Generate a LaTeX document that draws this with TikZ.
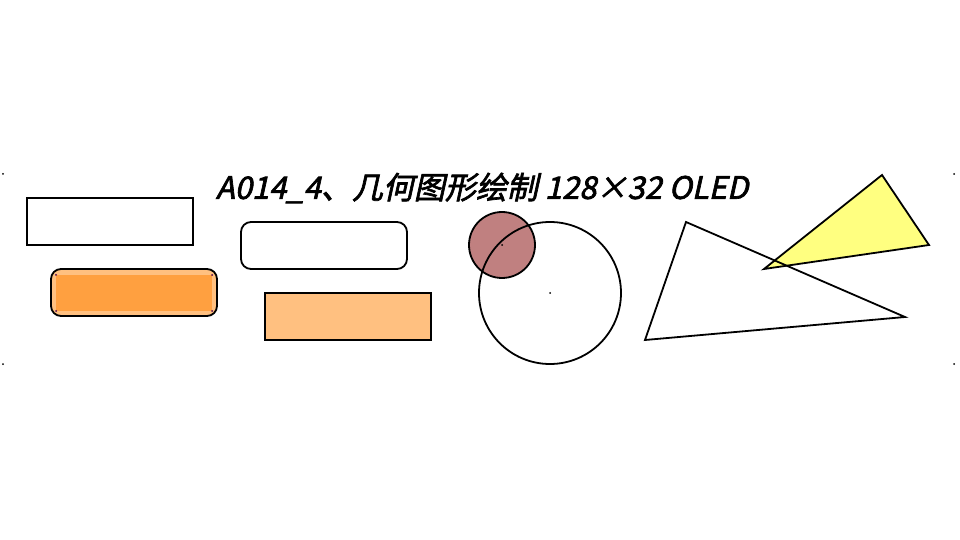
\documentclass[tikz,border=0pt]{standalone}
\usepackage{fontspec}
\newfontfamily\cjk[FakeSlant=0.22,FakeBold=2.2]{Noto Sans CJK SC}
\definecolor{orangefill}{HTML}{FFA040}
\definecolor{orangelite}{HTML}{FFC080}
\definecolor{brownfill}{HTML}{C08080}
\definecolor{yellowfill}{HTML}{FFFF80}
\begin{document}
\begin{tikzpicture}[x=0.5pt,y=-0.5pt]
    \tikzstyle{outline}=[draw, line width=0.9pt]
    \tikzstyle{dot}=[fill=black, inner sep=0pt, minimum size=1pt, circle]

    \useasboundingbox (0,0) rectangle (960,540);

    % corner marks
    \node[dot] (tl) at (3,174) {};
    \node[dot] (bl) at (3,364) {};
    \node[dot] (tr) at (954,174) {};
    \node[dot] (br) at (954,364) {};

    % title
    \node (title) at (482,188) {\cjk\fontsize{15.5pt}{15.5pt}\selectfont A014\_4、几何图形绘制 128×32 OLED};

    % rectangles
    \draw[outline] (27,198) rectangle (193,245);
    \draw[outline, rounded corners=5] (241,222) rectangle (407,269);
    \draw[outline, fill=orangelite] (265,293) rectangle (431,340);

    % filled rounded rectangle
    \fill[orangelite, rounded corners=5] (51,269) rectangle (217,316);
    \fill[orangefill] (56,275) rectangle (212,311);
    \draw[outline, rounded corners=5] (51,269) rectangle (217,316);
    \foreach \x/\y in {56/275, 212/275, 56/311, 212/311}
      \node[dot, fill=violet!60!black] at (\x,\y) {};

    % circles
    \draw[outline, fill=brownfill] (502,245) circle (33);
    \draw[outline] (550,293) circle (71);
    \node[dot] (c1) at (502,245) {};
    \node[dot] (c2) at (550,293) {};

    % triangles
    \draw[outline, fill=yellowfill] (882,175) -- (929,245) -- (764,269) -- cycle;
    \draw[outline] (686,222) -- (905,317) -- (645,340) -- cycle;
\end{tikzpicture}
\end{document}
